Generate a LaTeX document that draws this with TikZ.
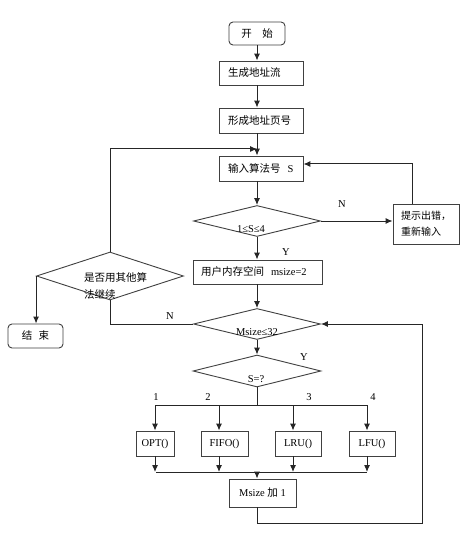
\documentclass[tikz,border=0pt]{standalone}
\usepackage{fontspec}
\setmainfont{Liberation Serif}
\newfontfamily\cjk{Noto Sans CJK SC}
\usetikzlibrary{arrows.meta,shapes.geometric}
\begin{document}
\begin{tikzpicture}[x=1pt,y=-1pt,
  every node/.style={font=\fontsize{10.5}{13}\selectfont},
  ln/.style={draw=black!85, line width=1pt},
  arr/.style={ln, -{Latex[length=7pt,width=6pt]}},
  box/.style={draw=black!75, line width=0.9pt, rectangle, inner ysep=0pt, inner xsep=9pt, align=left},
  cbox/.style={draw=black!75, line width=0.9pt, rectangle, inner sep=0pt},
  rbox/.style={cbox, rounded corners=4pt},
  dia/.style={draw=black!75, line width=0.9pt, diamond, inner sep=0pt},
  lab/.style={inner sep=0pt}]
\useasboundingbox (0,0) rectangle (474,537);
\fill[white] (0,0) rectangle (474,537);
\coordinate (mx) at (257,0);

% main column
\node[rbox, minimum width=56pt, minimum height=23pt] (start) at (257,33.5) {\cjk 开\hspace{1em}始};
\node[box, text width=66pt, minimum height=24pt] (b1) at (261,73) {\cjk 生成地址流};
\node[box, text width=66pt, minimum height=25pt] (b2) at (261,120.5) {\cjk 形成地址页号};
\node[box, text width=66pt, minimum height=25pt] (b3) at (261,168.5) {{\cjk 输入算法号}\ \ S};
\node[dia, minimum width=127pt, minimum height=31pt] (d1) at (257,221) {};
\node[lab] (d1t) at (251,229) {1≤S≤4};
\node[box, inner xsep=8pt, text width=50pt, minimum height=40pt, font=\fontsize{10}{16}\selectfont] (err) at (426,224) {\cjk 提示出错，\\重新输入};
\node[box, inner xsep=8pt, text width=113pt, minimum height=24pt] (b4) at (257.5,272) {{\cjk 用户内存空间}\ \ msize=2};
\node[dia, minimum width=127pt, minimum height=31pt] (d2) at (257,324) {};
\node[lab] (d2t) at (257,332) {Msize≤32};
\node[dia, minimum width=128pt, minimum height=32pt] (d3) at (257,371) {};
\node[lab] (d3t) at (256,379) {S=?};

% left column
\node[dia, minimum width=147pt, minimum height=48pt] (d4) at (110,276) {};
\node[lab, align=left, anchor=west, font=\fontsize{10.5}{17}\selectfont\cjk] (d4t) at (84,285.5) {是否用其他算\\法继续};
\node[rbox, minimum width=55pt, minimum height=24pt] (end) at (35.5,336) {\cjk 结\hspace{0.6em}束};

% branch boxes
\node[cbox, minimum width=38pt, minimum height=25pt] (opt) at (155,443.5) {OPT()};
\node[cbox, minimum width=47pt, minimum height=25pt] (fifo) at (224.5,443.5) {FIFO()};
\node[cbox, minimum width=46pt, minimum height=25pt] (lru) at (298,443.5) {LRU()};
\node[cbox, minimum width=46pt, minimum height=25pt] (lfu) at (372,443.5) {LFU()};
\node[cbox, minimum width=67pt, minimum height=28pt] (b5) at (262.5,493) {Msize {\cjk 加} 1};

% labels
\node[lab] (n1) at (342,204) {N};
\node[lab] (y1) at (286,252) {Y};
\node[lab] (n2) at (170,316) {N};
\node[lab] (y2) at (304,357) {Y};
\node[lab] (l1) at (156,397) {1};
\node[lab] (l2) at (208,397) {2};
\node[lab] (l3) at (309,397) {3};
\node[lab] (l4) at (373,397) {4};

% main connectors
\draw[arr] (start.south -| mx) -- (b1.north -| mx);
\draw[arr] (b1.south -| mx) -- (b2.north -| mx);
\draw[arr] (b2.south -| mx) -- (b3.north -| mx);
\draw[arr] (b3.south -| mx) -- (d1.north);
\draw[arr] (d1.south) -- (b4.north -| mx);
\draw[arr] (b4.south -| mx) -- (d2.north);
\draw[arr] (d2.south) -- (d3.north);

% error loop
\coordinate (ex) at (412,0);
\draw[arr] (d1.east) -- (d1.east -| err.west);
\draw[arr] (err.north -| ex) |- ([yshift=4.5pt]b3.east);

% left loop
\coordinate (lj) at (257,149);
\draw[arr] (d4.north) |- (lj);
\draw[ln] (d2.west) -| (d4.south);
\draw[arr] (d4.west) -- (d4.west |- end.north);

% Msize loop
\coordinate (rb) at (422,523);
\draw[arr] (b5.south -| mx) |- (rb) |- (d2.east);

% branches
\coordinate (bl) at (155,405);
\coordinate (brr) at (367,405);
\coordinate (a1) at (155,0);
\coordinate (a2) at (219,0);
\coordinate (a3) at (293,0);
\coordinate (a4) at (367,0);
\draw[ln] (d3.south) -- (d3.south |- bl);
\draw[ln] (bl) -- (brr);
\draw[arr] (a1 |- bl) -- (opt.north -| a1);
\draw[arr] (a2 |- bl) -- (fifo.north -| a2);
\draw[arr] (a3 |- bl) -- (lru.north -| a3);
\draw[arr] (a4 |- bl) -- (lfu.north -| a4);

% join
\coordinate (jl) at (156,472);
\coordinate (jr) at (367,472);
\draw[ln] (jl) -- (jr);
\draw[arr] (opt.south -| a1) -- (a1 |- jl);
\draw[arr] (fifo.south -| a2) -- (a2 |- jl);
\draw[arr] (lru.south -| a3) -- (a3 |- jl);
\draw[arr] (lfu.south -| a4) -- (a4 |- jl);
\draw[arr] (mx |- jl) -- (b5.north -| mx);
\end{tikzpicture}
\end{document}
